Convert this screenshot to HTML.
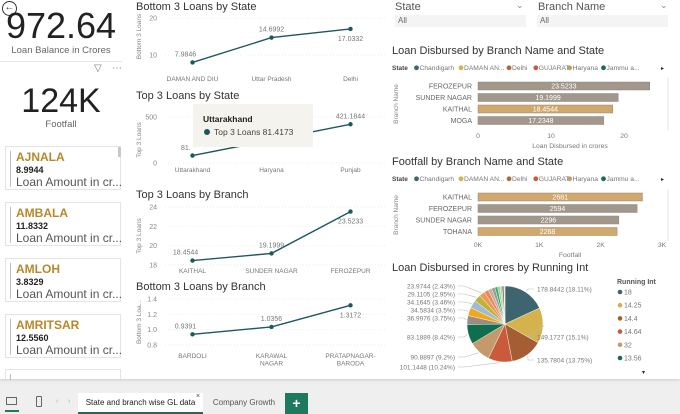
<!DOCTYPE html>
<html><head><meta charset="utf-8">
<style>
*{margin:0;padding:0;box-sizing:border-box}
body{width:680px;height:414px;overflow:hidden;background:#efefef;font-family:"Liberation Sans",sans-serif;position:relative}
.abs{position:absolute}
.main{left:0;top:0;width:680px;height:379px;background:#fff;box-shadow:0 1px 3px #ccc}
.card{position:absolute;left:5px;width:116px;height:44px;border:1px solid #e4e4e4;background:#fff}
.card .bar{position:absolute;left:4px;top:4px;width:1px;height:36px;background:#bbb}
.card .n{position:absolute;left:10px;top:3px;font-weight:bold;color:#b8882a;font-size:12px}
.card .v{position:absolute;left:10px;top:18px;font-weight:bold;color:#222;font-size:9px}
.card .l{position:absolute;left:10px;top:28px;color:#555;font-size:12px;white-space:nowrap}
.sl{position:absolute;font-size:11px;color:#555}
.dd{position:absolute;height:12px;background:#f4f4f4;font-size:8px;color:#666;padding-left:3px;line-height:12px}
</style></head><body>
<div class="abs main"></div>

<div class="abs" style="left:2px;top:1px;width:15px;height:15px;border:1.5px solid #333;border-radius:50%;font-size:10px;line-height:11px;text-align:center;color:#333">&#8592;</div>
<div class="abs" style="left:0;top:5px;width:122px;text-align:center;font-size:36px;color:#222">972.64</div>
<div class="abs" style="left:0;top:45px;width:122px;text-align:center;font-size:9.5px;color:#666">Loan Balance in Crores</div>
<div class="abs" style="left:0;top:61px;width:122px;height:1px;background:#e6e6e6"></div>
<div class="abs" style="left:94px;top:63px;font-size:10px;color:#777">&#9661;</div>
<div class="abs" style="left:112px;top:63px;font-size:10px;color:#777">&#8943;</div>
<div class="abs" style="left:0;top:82px;width:122px;text-align:center;font-size:34px;color:#222">124K</div>
<div class="abs" style="left:0;top:119px;width:122px;text-align:center;font-size:9.5px;color:#666">Footfall</div>

<div class="card" style="top:146px"><div class="bar"></div><div class="n">AJNALA</div><div class="v">8.9944</div><div class="l">Loan Amount in cr...</div></div>
<div class="card" style="top:202px"><div class="bar"></div><div class="n">AMBALA</div><div class="v">11.8332</div><div class="l">Loan Amount in cr...</div></div>
<div class="card" style="top:258px"><div class="bar"></div><div class="n">AMLOH</div><div class="v">3.8329</div><div class="l">Loan Amount in cr...</div></div>
<div class="card" style="top:314px"><div class="bar"></div><div class="n">AMRITSAR</div><div class="v">12.5560</div><div class="l">Loan Amount in cr...</div></div>
<div class="card" style="top:369px;height:10px;border-bottom:none"><div class="bar" style="height:6px"></div></div>
<div class="abs" style="left:118px;top:147px;width:3px;height:10px;background:#c8c8c8"></div>

<div class="sl" style="left:395px;top:1px">State</div>
<div class="sl" style="left:516px;top:0px;font-size:9px;color:#888">&#8964;</div>
<div class="dd" style="left:395px;top:15px;width:131px">All</div>
<div class="sl" style="left:538px;top:1px">Branch Name</div>
<div class="sl" style="left:660px;top:0px;font-size:9px;color:#888">&#8964;</div>
<div class="dd" style="left:537px;top:15px;width:131px">All</div>

<svg class="abs" style="left:0;top:0" width="680" height="414" id="svg" font-family="Liberation Sans, sans-serif"></svg>

<div class="abs" style="left:0;top:393px;width:680px;height:21px;background:#efefef"></div>
<div class="abs" style="left:6px;top:397px;width:11px;height:8px;border:1px solid #666"></div>
<div class="abs" style="left:5px;top:410px;width:14px;height:2px;background:#1d7a5f"></div>
<div class="abs" style="left:36px;top:396px;width:6px;height:11px;border:1px solid #666;border-radius:1px"></div>
<div class="abs" style="left:56px;top:398px;font-size:7px;color:#aaa">&#8249;</div>
<div class="abs" style="left:68px;top:398px;font-size:7px;color:#aaa">&#8250;</div>
<div class="abs" style="left:78px;top:393px;width:125px;height:21px;background:#fff;border-bottom:2px solid #1d6b57;font-size:8px;color:#222;text-align:center;line-height:20px">State and branch wise GL data</div>
<div class="abs" style="left:196px;top:393px;font-size:7px;color:#444">×</div>
<div class="abs" style="left:203px;top:393px;width:82px;height:21px;font-size:8px;color:#555;text-align:center;line-height:20px">Company Growth</div>
<div class="abs" style="left:285px;top:393px;width:23px;height:21px;background:#1d7a5f;color:#fff;font-weight:bold;font-size:14px;text-align:center;line-height:20px">+</div>

<script>
const NS='http://www.w3.org/2000/svg';
const svg=document.getElementById('svg');
function el(tag,attrs,parent,text){const e=document.createElementNS(NS,tag);for(const k in attrs)e.setAttribute(k,attrs[k]);if(text!==undefined)e.textContent=text;(parent||svg).appendChild(e);return e;}

const c1Cats=['DAMAN AND DIU','Uttar Pradesh','Delhi'];
const c1Vals=[7.9846,14.6992,17.0332];
const c1Ticks=[10,20];
const c2Cats=['Uttarakhand','Haryana','Punjab'];
const c2Vals=[81.4173,250,421.1844];
const c2Ticks=[0,500];
const c3Cats=['KAITHAL','SUNDER NAGAR','FEROZEPUR'];
const c3Vals=[18.4544,19.1999,23.5233];
const c3Ticks=[18,20,22,24];
const c4Cats=['BARDOLI','KARAWAL|NAGAR','PRATAPNAGAR-|BARODA'];
const c4Vals=[0.9391,1.0356,1.3172];
const c4Ticks=[0.8,1.0,1.2,1.4];

function lineChart(o){
  const g=el('g',{},svg);
  
  
  const t=el('text',{x:136,y:o.titleY,'font-size':11,fill:'#333'},g,o.title);
  
  
  const y=v=>o.r0+(v-o.d0)/(o.d1-o.d0)*(o.r1-o.r0);
  const x=i=>153+79*(i+0.5);
  o.ticks.forEach(tv=>{
    el('line',{x1:165,x2:385,y1:y(tv),y2:y(tv),stroke:'#eee','stroke-dasharray':'1,2'},g);
    const tl=el('text',{x:157,y:y(tv)+2.5,'font-size':7,fill:'#888','text-anchor':'end'},g,o.fmt?o.fmt(tv):tv);
    
    
  });
  const yt=el('text',{transform:`translate(141,${(o.r0+o.r1)/2}) rotate(-90)`,'font-size':6.5,fill:'#888','text-anchor':'middle'},g,o.yTitle);
  
  
  const pts=o.vals.map((v,i)=>x(i)+','+y(v)).join(' ');
  const pl=el('polyline',{points:pts,fill:'none',stroke:'#1d5860','stroke-width':1.4},g);
  
  
  o.vals.forEach((v,i)=>{
    const c=el('circle',{cx:x(i),cy:y(v),r:2.2,fill:'#1d5860'},g);
    
    
    if(!(o.hide&&o.hide[i])){
      const below=o.below[i];
      const lb=el('text',{x:x(i)-(i==0?7:0),y:y(v)+(below?12:-6),'font-size':7,fill:'#777','text-anchor':'middle'},g,o.lbl?o.lbl[i]:v.toFixed(4));
      
      
    }
    const parts=o.cats[i].split('|');
    parts.forEach((p,j)=>{
      const xl=el('text',{x:x(i),y:o.xLabY+j*7.5,'font-size':6.5,fill:'#777','text-anchor':'middle'},g,p);
      
      
    });
  });
}
lineChart({name:'bottom3-state-chart',title:'Bottom 3 Loans by State',titleY:10,cats:c1Cats,vals:c1Vals,ticks:c1Ticks,d0:10,d1:20,r0:55,r1:18,yTitle:'Bottom 3 Loans',xLabY:81,below:[0,0,1]});
lineChart({name:'top3-state-chart',title:'Top 3 Loans by State',titleY:99,cats:c2Cats,vals:c2Vals,ticks:c2Ticks,d0:0,d1:500,r0:163,r1:117,yTitle:'Top 3 Loans',xLabY:172,below:[0,0,0],hide:[1,1,0],lbl:['','','421.1844']});
el('text',{x:181,y:150,'font-size':7,fill:'#777'},svg,'81.');
lineChart({name:'top3-branch-chart',title:'Top 3 Loans by Branch',titleY:198,cats:c3Cats,vals:c3Vals,ticks:c3Ticks,d0:18,d1:24,r0:265,r1:207,yTitle:'Top 3 Loans',xLabY:273,below:[0,0,1]});
lineChart({name:'bottom3-branch-chart',title:'Bottom 3 Loans by Branch',titleY:290,cats:c4Cats,vals:c4Vals,ticks:c4Ticks,d0:0.8,d1:1.4,r0:345,r1:299,yTitle:'Bottom 3 Loa...',xLabY:358,below:[0,0,1],fmt:v=>v.toFixed(1)});

const tt=el('g',{},svg);


el('rect',{x:193,y:104,width:120,height:43,fill:'#f4f3ee'},tt);
el('text',{x:203,y:122,'font-size':8.5,'font-weight':'bold',fill:'#222'},tt,'Uttarakhand');
el('circle',{cx:207,cy:132,r:3,fill:'#1d5860'},tt);
el('text',{x:214,y:135,'font-size':8.5,fill:'#444'},tt,'Top 3 Loans   81.4173');

const legStates=['Chandigarh','DAMAN AN...','Delhi','GUJARAT','Haryana','Jammu a...'];
const legColors=['#3e6470','#d4b24c','#b5673c','#c95a3c','#c49a6c','#1a6e4f'];
const b1Cats=['FEROZEPUR','SUNDER NAGAR','KAITHAL','MOGA'];
const b1Vals=[23.5233,19.1999,18.4544,17.2348];
const b1Labels=['23.5233','19.1999','18.4544','17.2348'];
const b1Gold=[0,0,1,0];
const b1Ticks=[0,10,20];
const b2Cats=['KAITHAL','FEROZEPUR','SUNDER NAGAR','TOHANA'];
const b2Vals=[2681,2594,2296,2268];
const b2Labels=['2681','2594','2296','2268'];
const b2Gold=[1,0,0,1];
const b2Ticks=[0,1000,2000,3000];
const b2TickLbl=['0K','1K','2K','3K'];

function barChart(o){
  const g=el('g',{},svg);
  
  
  const t=el('text',{x:392,y:o.top,'font-size':11,fill:'#333'},g,o.title);
  
  
  const ly=o.top+16;
  el('text',{x:392,y:ly,'font-size':6.5,'font-weight':'bold',fill:'#444'},g,'State');
  let lx=414;
  legStates.forEach((s,i)=>{
    const c=el('circle',{cx:lx+2.5,cy:ly-2.2,r:2.4,fill:legColors[i]},g);
    
    
    const tx=el('text',{x:lx+5.5,y:ly,'font-size':6.7,fill:'#777'},g,s);
    
    
    lx+=6+s.length*3.55+3;
  });
  el('text',{x:661,y:ly,'font-size':6,fill:'#222'},g,'▸');
  const x=v=>478+v/o.dmax*(o.xmax-478);
  const rowY=i=>o.barTop+i*11.5;
  o.cats.forEach((c,i)=>{
    const cl=el('text',{x:472,y:rowY(i)+6.5,'font-size':7,fill:'#666','text-anchor':'end'},g,c);
    
    
    const r=el('rect',{x:478,y:rowY(i),width:x(o.vals[i])-478,height:8,fill:o.gold[i]?'#d1a86c':'#a1978c',stroke:'#8f857b','stroke-width':0.5},g);
    
    
    el('text',{x:(478+x(o.vals[i]))/2,y:rowY(i)+6.5,'font-size':7,fill:'#fff','text-anchor':'middle'},g,o.labels[i]);
  });
  o.ticks.forEach((tv,i)=>{
    const tl=el('text',{x:x(tv),y:o.axisY,'font-size':6.8,fill:'#777','text-anchor':'middle'},g,o.tickLbl?o.tickLbl[i]:tv);
    
    
  });
  el('text',{x:570,y:o.axisY+10,'font-size':6.8,fill:'#777','text-anchor':'middle'},g,o.xTitle);
  el('text',{transform:`translate(398,${o.barTop+22}) rotate(-90)`,'font-size':6.5,fill:'#888','text-anchor':'middle'},g,'Branch Name');
  el('rect',{x:667,y:o.barTop-4,width:2,height:52,fill:'#f2f2f2'},g);
}
barChart({name:'loan-disbursed-bar-chart',title:'Loan Disbursed by Branch Name and State',top:54,cats:b1Cats,vals:b1Vals,labels:b1Labels,gold:b1Gold,ticks:b1Ticks,dmax:20,xmax:624,barTop:82,axisY:138,xTitle:'Loan Disbursed in crores'});
barChart({name:'footfall-bar-chart',title:'Footfall by Branch Name and State',top:165,cats:b2Cats,vals:b2Vals,labels:b2Labels,gold:b2Gold,ticks:b2Ticks,tickLbl:b2TickLbl,dmax:3000,xmax:662,barTop:193,axisY:247,xTitle:'Footfall'});

const pieVals=[178.8442,149.1727,135.7804,101.1448,90.8897,83.1889,36.9976,34.5834,34.1645,29.1105,23.9744,18,15,14,12,10,9,7,5];
const pieColors=['#3e6470','#d4b24c','#a55e34','#c95a3c','#c49a6c','#0f6e4e','#9c8b7e','#f2a81d','#9ebdd3','#bfb23a','#ec9a52','#e9866a','#c9ac8a','#9a9a9a','#2fb36b','#8fd3a0','#d8c49a','#555','#f0e0c0'];
const pieLabels=['178.8442 (18.11%)','149.1727 (15.1%)','135.7804 (13.75%)','101.1448 (10.24%)','90.8897 (9.2%)','83.1889 (8.42%)','36.9976 (3.75%)','34.5834 (3.5%)','34.1645 (3.46%)','29.1105 (2.95%)','23.9744 (2.43%)'];
const legInts=['18','14.25','14.4','14.64','32','13.56'];
const labelYs=[289,337,360,367,357,337,318,310,302,294,286];

const pg=el('g',{},svg);


el('text',{x:392,y:271,'font-size':11,fill:'#333'},pg,'Loan Disbursed in crores by Running Int');
const cx=505,cy=324,R=38;
const total=pieVals.reduce((a,b)=>a+b,0);
let a0=0;
pieVals.forEach((v,i)=>{
  const a1=a0+v/total*2*Math.PI;
  const p=(a)=>[cx+R*Math.sin(a),cy-R*Math.cos(a)];
  const [x0,y0]=p(a0),[x1,y1]=p(a1);
  const large=(a1-a0)>Math.PI?1:0;
  const s=el('path',{d:`M${cx},${cy}L${x0},${y0}A${R},${R} 0 ${large} 1 ${x1},${y1}Z`,fill:pieColors[i],stroke:'#fff','stroke-width':0.4},pg);
  
  
  if(i<pieLabels.length){
    const am=(a0+a1)/2;
    const ex=cx+(R+1)*Math.sin(am),ey=cy-(R+1)*Math.cos(am);
    const right=i<3;
    const ly=labelYs[i];
    const lx=right?537:455;
    const kx=right?lx-3:lx+3;
    el('polyline',{points:`${ex},${ey} ${kx+(right?-6:6)},${ly} ${kx},${ly}`,fill:'none',stroke:'#bbb','stroke-width':0.6},pg);
    const t=el('text',{x:lx,y:ly+2.3,'font-size':6.5,fill:'#777','text-anchor':right?'start':'end'},pg,pieLabels[i]);
    
    
  }
  a0=a1;
});
el('text',{x:617,y:284,'font-size':7,'font-weight':'bold',fill:'#555'},pg,'Running Int');
legInts.forEach((s,i)=>{
  const yy=294+i*13.2;
  el('circle',{cx:620,cy:yy-2,r:2.3,fill:pieColors[i]},pg);
  const t=el('text',{x:624,y:yy+0.5,'font-size':7,fill:'#777'},pg,s);
  
  
});
el('text',{x:642,y:374,'font-size':6,fill:'#222'},pg,'▾');
</script>
</body></html>
